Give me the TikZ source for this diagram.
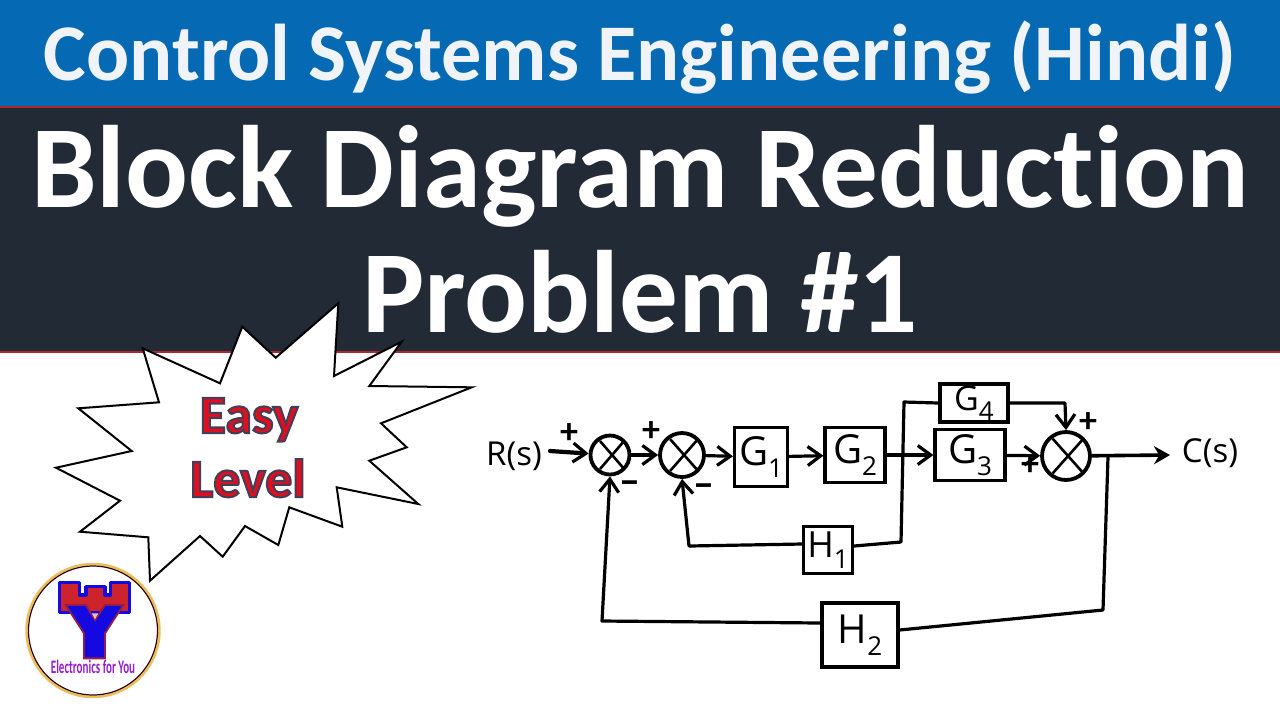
\documentclass[tikz,border=0pt]{standalone}
\usepackage{fontspec}
\usetikzlibrary{arrows.meta,calc}
\setmainfont[Ligatures=NoCommon]{Carlito}
\newfontfamily\handfont{Open Sans}
\definecolor{headblue}{RGB}{5,105,180}
\definecolor{headdark}{RGB}{34,42,54}
\definecolor{headred}{RGB}{170,40,50}
\definecolor{headtext}{RGB}{240,244,248}
\definecolor{logored}{RGB}{205,35,45}
\definecolor{logoblue}{RGB}{20,10,225}
\definecolor{logomaroon}{RGB}{150,30,70}
\definecolor{logopurple}{RGB}{150,30,200}
\definecolor{logogold}{RGB}{235,190,90}
\definecolor{easyred}{RGB}{225,15,30}
\newcommand{\lowered}[1]{\raisebox{-0.3em}{\fontsize{13}{13}\selectfont #1}}
\newcommand{\outlined}[1]{\special{pdf:code q 2 Tr 1.0 w 0.27 0.24 0.35 RG}#1\special{pdf:code 0 Tr Q}}
\tikzset{
  bandtitle/.style={anchor=base,font=\bfseries\fontsize{#1}{#1}\selectfont,text=white,inner sep=0},
  blockbox/.style={draw=black,line width=1.6pt,fill=white,inner sep=0,font=\handfont\fontsize{20}{20}\selectfont},
  sumnode/.style={circle,draw=black,line width=1.9pt,fill=white,inner sep=0,
    path picture={\draw[line width=1.3pt]
      ($(path picture bounding box.north west)!0.14!(path picture bounding box.south east)+(4,0)$) --
      ($(path picture bounding box.south east)!0.10!(path picture bounding box.north west)$);
      \draw[line width=1.3pt]
      ($(path picture bounding box.north east)!0.12!(path picture bounding box.south west)$) --
      ($(path picture bounding box.south west)!0.14!(path picture bounding box.north east)+(4,0)$);}},
  wire/.style={line width=1.6pt,line join=round,line cap=round},
  arrowwire/.style={wire,-{Straight Barb[length=6.5pt,width=9.5pt,line width=1.6pt]}},
  signmark/.style={inner sep=0,font=\bfseries\fontsize{#1}{#1}\selectfont},
  signmark/.default=18,
  handlabel/.style={inner sep=0,font=\handfont\fontsize{16.5}{16.5}\selectfont},
}
\begin{document}
\begin{tikzpicture}[x=0.5pt,y=-0.5pt]
\useasboundingbox (0,0) rectangle (1280,720);
\fill[white] (0,0) rectangle (1280,720);
% header bands
\fill[headblue] (0,0) rectangle (1280,106);
\fill[headdark] (0,107) rectangle (1280,352);
\draw[headred,line width=0.7pt] (0,107) -- (1280,107);
\draw[headred,line width=0.9pt] (0,352) -- (1280,352);
\node[bandtitle=40.2,text=headtext] (title1) at (640,80) {Control Systems Engineering (Hindi)};
\node[bandtitle=58.6] (title2) at (640,207) {Block Diagram Reduction};
\node[bandtitle=58.6] (title3) at (640,332) {Problem \#1};
% star burst
\draw[black,line width=1pt,fill=white,line join=miter,miter limit=20]
 (338.3,303.3) -- (334,376) -- (401.7,341.7) -- (369.3,386) -- (471.7,387.3) -- (381,423.3)
 -- (406.7,447.3) -- (369.3,460.7) -- (418.3,504) -- (336.7,487.3) -- (342.3,526.7)
 -- (289.3,507.3) -- (278.3,545) -- (245,526) -- (222.7,556.7) -- (200,536) -- (150,580.7)
 -- (148.3,537.3) -- (80,531.7) -- (120,500.7) -- (56,467.7) -- (131.7,451) -- (78.3,408.3)
 -- (159,402.3) -- (142.7,348.3) -- (220,383.3) -- (242.3,326.7) -- (275.7,357.7) -- cycle;
\node[anchor=base,inner sep=0,text=easyred,font=\bfseries\fontsize{27}{27}\selectfont] (easy) at (249,433) {\outlined{Easy}};
\node[anchor=base,inner sep=0,text=easyred,font=\bfseries\fontsize{27}{27}\selectfont] (level) at (248,497) {\outlined{Level}};
% logo
\node[circle,draw=logogold,line width=1.2pt,minimum size=66.5pt,inner sep=0,fill=white] (logoring) at (93,630.5) {};
\node[circle,draw=black!80!red,line width=0.6pt,minimum size=64.5pt,inner sep=0] (logodisc) at (93,630.5) {};
\begin{scope}[shift={(10,550)},x=0.16667pt,y=-0.16667pt]
\filldraw[fill=logored,draw=logoblue,line width=1.6pt,line join=round]
 (148,97) -- (208,97) -- (208,135) -- (228,135) -- (228,110) -- (285,110) -- (285,135) -- (302,135)
 -- (302,97) -- (358,97) -- (358,188) -- (148,188) -- cycle;
\filldraw[fill=logoblue,draw=logomaroon,line width=0.9pt,line join=miter]
 (167,165) -- (228,165) -- (255,210) -- (285,165) -- (340,165) -- (285,250) -- (285,325)
 -- (222,325) -- (222,250) -- cycle;
\fill[logored!30] (246,190) -- (264,190) -- (255,208) -- cycle;
\end{scope}
\node[inner sep=0,text=logopurple,xscale=0.58,font=\bfseries\fontsize{9.5}{9.5}\selectfont] (logotext) at (93,667) {Electronics for You};
% block diagram
\node[handlabel] (rs) at (514,456) {R(s)};
\node[handlabel] (cs) at (1210,453) {C(s)};
\node[sumnode,minimum size=19.5pt] (s1) at (610,455) {};
\node[sumnode,minimum size=22pt] (s2) at (682,455) {};
\node[sumnode,minimum size=24pt] (s3) at (1066,456) {};
\node[blockbox,minimum width=26.5pt,minimum height=29.5pt] (g1) at (761,457) {G\lowered{1}};
\node[blockbox,minimum width=30pt,minimum height=27.5pt] (g2) at (855,455) {G\lowered{2}};
\node[blockbox,minimum width=35pt,minimum height=25.5pt] (g3) at (970,455) {G\lowered{3}};
\node[blockbox,minimum width=34pt,minimum height=19pt,font=\handfont\fontsize{17}{17}\selectfont] (g4) at (974,403) {G\lowered{4}};
\node[blockbox,minimum width=24.5pt,minimum height=23.5pt,font=\handfont\fontsize{18}{18}\selectfont] (h1) at (828,550) {H\lowered{1}};
\node[blockbox,minimum width=38pt,minimum height=32pt] (h2) at (860,635) {H\lowered{2}};
\coordinate (rstart) at (550,451);
\coordinate (coutend) at (1170,455);
\coordinate (branchtop) at (904,402);
\coordinate (branchbottom) at (901,542);
\coordinate (g4corner) at (1065,403);
\coordinate (h1corner) at (689,546);
\coordinate (h2corner) at (602,621);
\coordinate (tapstart) at (1108,457);
\coordinate (tapend) at (1103,610);
\draw[arrowwire,line width=2.1pt] (rstart) -- (s1);
\draw[arrowwire] (s1) -- (s2);
\draw[arrowwire] (s2) -- (g1);
\draw[arrowwire] (g1) -- (g2);
\draw[arrowwire] (g2) -- (g3);
\draw[arrowwire] (g3) -- (s3);
\draw[wire,-{Stealth[length=8pt,width=9pt]},line width=1.8pt] (s3) -- (coutend);
\draw[wire] (g4.west) -- (branchtop) -- (branchbottom) -- ($(h1.east)+(0,-4)$);
\draw[arrowwire] (g4.east) -- (g4corner) -- (s3.north);
\draw[arrowwire] ($(h1.west)+(0,-6)$) -- (h1corner) -- (s2.south);
\draw[wire] (tapstart) -- (tapend) -- ($(h2.east)+(0,-5)$);
\draw[arrowwire] ($(h2.west)+(0,-12)$) -- (h2corner) -- (s1.south);
\node[signmark] (p1) at (569,434) {+};
\node[signmark] (p2) at (651,432) {+};
\node[signmark=21] (m1) at (630,488) {--};
\node[signmark=21] (m2) at (704,491) {--};
\node[signmark] (p3) at (1088,423) {+};
\node[signmark] (p4) at (1030,466) {+};
\end{tikzpicture}
\end{document}
